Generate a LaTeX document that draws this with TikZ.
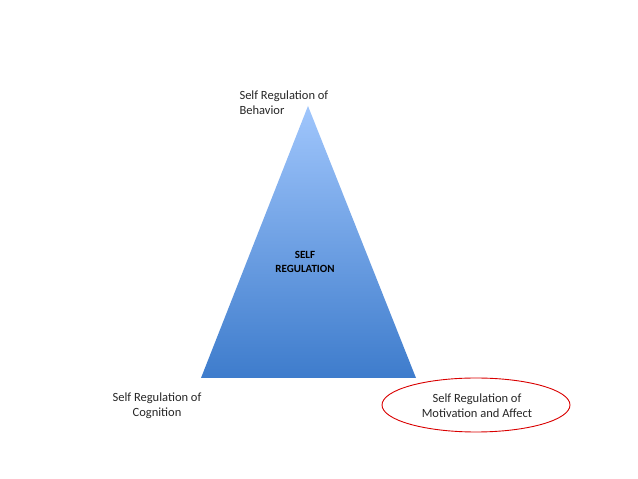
\documentclass[tikz,border=0pt]{standalone}
\usepackage{fontspec}
\setmainfont{Carlito}
\begin{document}
\begin{tikzpicture}[x=1pt,y=1pt,
  lbl/.style={font=\fontsize{12.5}{15}\selectfont, text=black!85},
  ring/.style={draw=red!85!black, line width=0.9pt, ellipse, minimum width=188pt, minimum height=54pt}]
\useasboundingbox (0,0) rectangle (638,479);
\coordinate (apex) at (308,373);
\coordinate (bl) at (201,101);
\coordinate (br) at (416,101);
\shade[top color={rgb,255:red,160;green,198;blue,252}, bottom color={rgb,255:red,62;green,124;blue,204}]
  (apex) -- (br) -- (bl) -- cycle;
\node[font=\fontsize{11}{14}\selectfont\bfseries, align=center] (c) at (305,217) {SELF\\REGULATION};
\node[lbl, align=left, anchor=north west] (b) at (236,392) {Self Regulation of\\Behavior};
\node[lbl, align=center] (cg) at (157,73) {Self Regulation of\\Cognition};
\node[lbl, align=center] (m) at (477,73) {Self Regulation of\\Motivation and Affect};
\draw[red!85!black, line width=0.9pt] (476,74) ellipse (94pt and 27pt);
\end{tikzpicture}
\end{document}
